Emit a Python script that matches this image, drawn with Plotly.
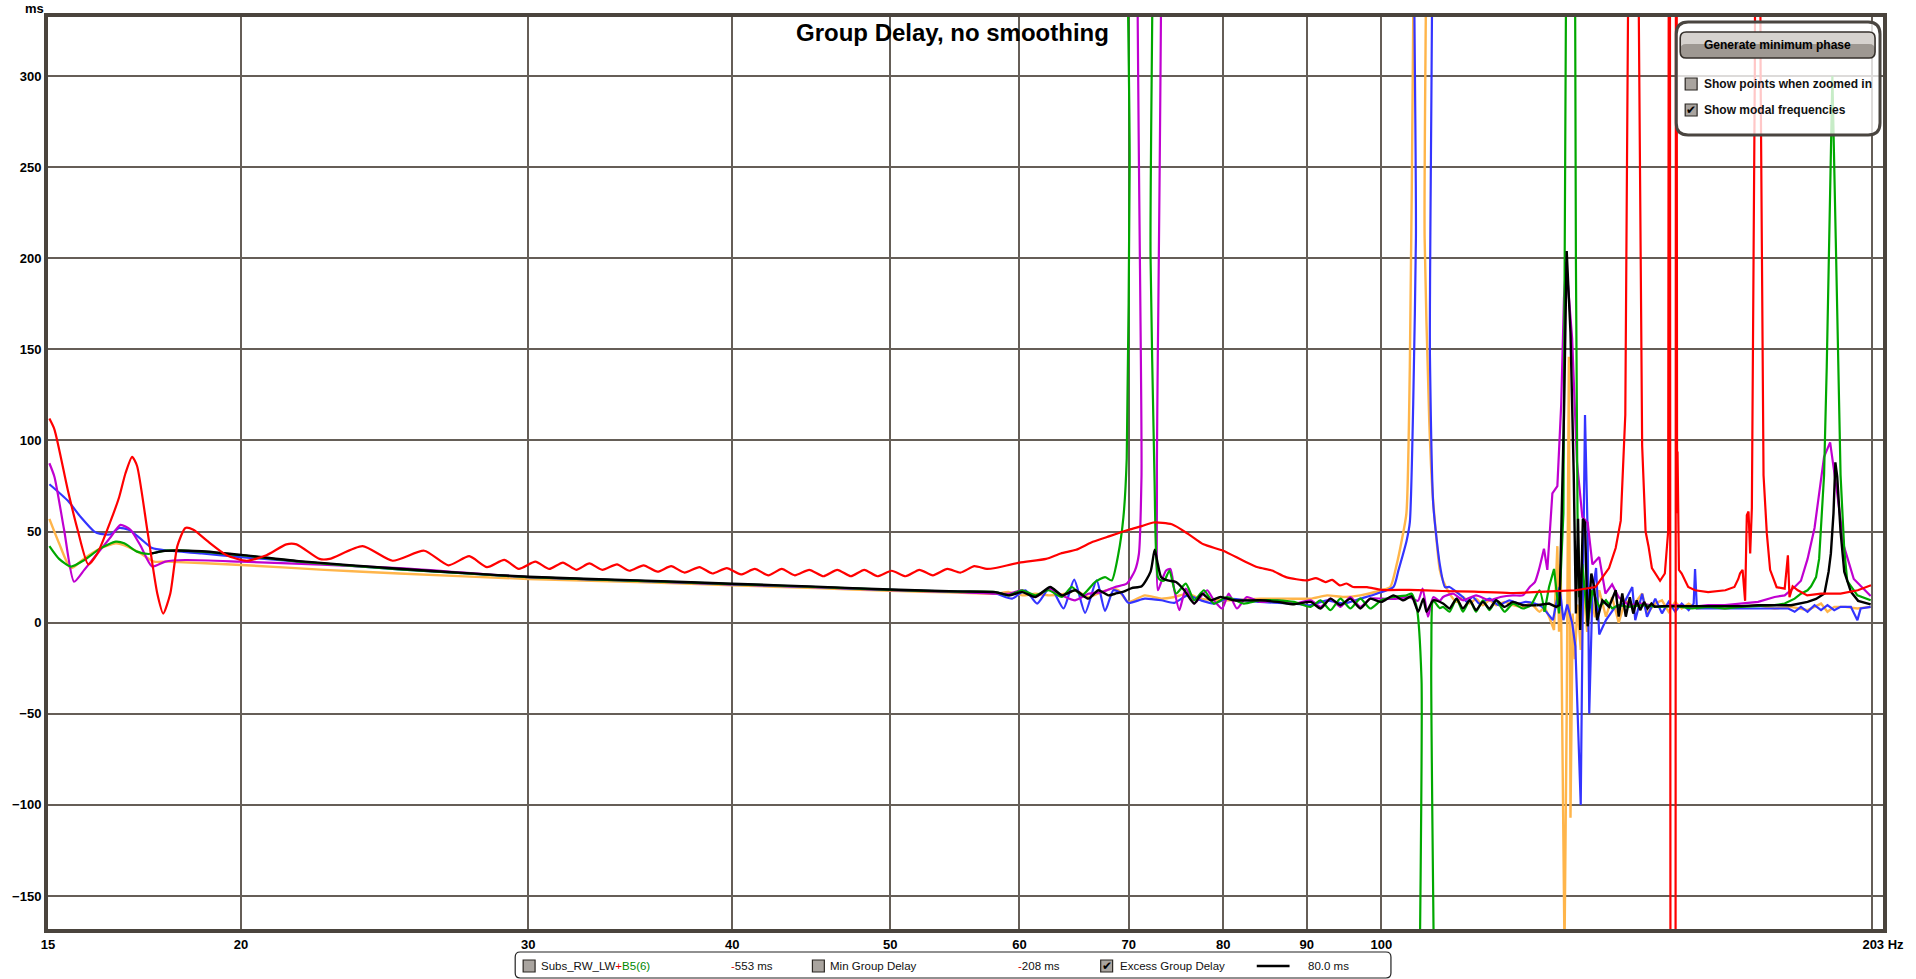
import math
import plotly.graph_objects as go

# frequency (Hz) / group delay (ms)
orange_pts = [(15.26, 57), (15.47, 43.6), (15.73, 29.9), (16.03, 35.3), (16.40, 40.8), (16.76, 43.6), (17.04, 41.8),
              (17.36, 38), (17.69, 33.5), (18.02, 33.5), (20.0, 31.7), (22.5, 29), (25.0, 27), (30.0, 24), (35.0, 22.3),
              (40.0, 20.5), (45.0, 19), (50.0, 17.5), (55.0, 16.5),
              (58.01, 15.9), (59.11, 16.8), (60.23, 15), (61.36, 15.9), (62.52, 15), (64.0, 15.9), (64.91, 17.8),
              (66.13, 14.1), (67.39, 16.8), (68.35, 18.7), (68.99, 17.8), (69.97, 11.4), (71.61, 15), (73.29, 13.2),
              (74.67, 14.1), (76.07, 15.9), (77.49, 13.2), (80.43, 12.3), (84.26, 13.2), (87.5, 13.2), (90.5, 13.2),
              (92.62, 15), (94.82, 14.1), (97.08, 15), (99.98, 17.8), (101.26, 19.6), (102.19, 32), (102.91, 45),
              (103.6, 60), (104.1, 140), (104.6, 330), (104.9, 600), (105.8, 600), (106.3, 211), (107.0, 110),
              (107.5, 71), (108.6, 29), (109.1, 23),
              (110.1, 16), (111.2, 11.4), (112.2, 14.1), (113.3, 10.5), (114.3, 13.2), (115.4, 9.6), (116.5, 12.3),
              (117.6, 9.6), (119.0, 11.4), (120.4, 9.6), (122.1, 8.7), (123.5, 10.5), (125.0, 6.0), (125.9, 8.7),
              (126.7, 3.3), (127.6, -4), (128.2, 42), (128.5, -5), (128.8, 32), (129.1, -60), (129.5, -180),
              (129.9, -50), (130.3, 146), (130.6, -107), (131.0, 5), (131.4, -20), (131.9, 10), (132.5, -15),
              (133.0, 20), (133.7, -5), (134.5, 14), (135.2, 3), (136.0, 17.8), (137.3, 3.3), (138.5, 14),
              (139.8, 0), (141.1, 12.3), (142.5, 8.7), (144.5, 16), (145.5, 5.1), (147.2, 10.5), (148.6, 12.3),
              (150.0, 6.0), (151.4, 11.4), (152.8, 7.8), (154.3, 10.5), (156.1, 7.8), (158.6, 8.7), (162.4, 7.8),
              (166.2, 8.7), (170.2, 9.6), (174.2, 7.8), (178.3, 8.7), (182.5, 6.9), (186.0, 10.5), (187.7, 6.0),
              (189.5, 8.7), (192.5, 8.7), (195.8, 7.8), (199.5, 8.7)]

blue_pts = [(15.26, 76), (15.66, 67), (15.95, 58), (16.26, 50), (16.40, 48.7), (16.64, 48.5), (16.84, 52), (17.07, 51),
            (17.36, 46), (17.64, 41), (18.02, 39.6), (18.92, 38), (20.0, 36), (21.7, 33.5), (25.0, 29.3), (27.5, 27),
            (30.0, 25), (35.0, 23), (40.0, 21), (45.0, 19.5), (50.0, 18), (55.0, 17),
            (58.01, 16), (59.39, 13.2), (60.51, 17.8), (61.51, 10.5), (62.67, 19.6), (63.85, 7.8), (64.82, 23.6),
            (65.83, 5.4), (66.91, 23.2), (67.71, 6.5), (68.51, 17.8), (69.32, 15.9), (69.97, 10.9), (71.61, 13.2),
            (73.29, 12.3), (74.67, 10.9), (76.07, 15), (77.49, 12.3), (78.95, 10.5), (80.43, 13.2), (84.26, 11.4),
            (88.41, 10.5), (90.5, 9.6), (92.62, 12.3), (94.82, 10.5), (97.08, 13.2), (99.36, 15.9), (101.72, 19.6),
            (102.43, 28.6), (103.63, 45), (104.1, 55), (104.6, 120), (105.0, 211), (105.5, 600), (106.5, 600),
            (107.1, 146), (107.6, 65), (108.6, 32), (109.4, 19.5),
            (110.1, 19.6), (111.2, 16.8), (112.2, 14.1), (112.8, 11.4), (113.8, 14.1), (114.8, 10.5), (116.5, 13.2),
            (118.0, 9.6), (119.8, 12.3), (121.3, 10.5), (122.6, 11.4), (124.2, 10.5), (125.5, 8.7), (126.5, 5.1),
            (127.4, 1.4), (128.6, 19.6), (129.3, 1.4), (130.0, 10), (130.9, 0), (131.5, -13), (132.5, -100),
            (132.9, 16), (133.3, 114), (133.8, 49), (134.1, -50), (134.7, 16), (135.4, 30), (136.0, -6.5),
            (137.3, 1.4), (139.1, 8.7), (140.8, 10.5), (142.5, 19.6), (143.1, 1.4), (144.5, 15.9), (145.5, 3.3),
            (147.2, 13.2), (148.6, 5.1), (150.0, 11.4), (151.4, 6.0), (152.8, 10.5), (154.3, 6.9), (155.4, 10.5),
            (155.7, 29.5), (156.1, 7.8), (158.6, 7.8), (162.4, 7.8), (166.2, 7.8), (170.2, 7.8), (174.2, 7.8),
            (177.6, 7.8), (179.2, 6.0), (180.8, 8.7), (182.5, 6.0), (184.3, 9.6), (186.0, 6.9), (187.7, 9.6),
            (189.5, 6.9), (191.2, 8.7), (194.0, 8.7), (195.8, 1.4), (196.7, 7.8), (199.5, 8.7)]

magenta_pts = [(15.26, 87.5), (15.37, 80), (15.58, 51), (15.80, 22.5), (16.03, 29), (16.33, 38), (16.64, 47),
               (16.87, 53.7), (17.11, 51), (17.36, 42), (17.64, 30.8), (17.97, 33.5), (18.49, 34.4), (20.0, 33.5),
               (25.0, 30), (30.0, 25), (35.0, 23), (40.0, 21), (45.0, 19.5), (50.0, 17.8), (55.0, 16.8),
               (58.01, 15.9), (59.11, 15.9), (60.23, 17.8), (61.36, 14.1), (62.52, 18.7), (63.71, 15.0),
               (64.91, 12.3), (66.13, 15.9), (67.39, 16.8), (68.67, 19.6), (69.81, 21.4), (70.62, 28.6),
               (71.02, 37.7), (71.28, 80), (71.6, 600), (72.5, 600), (72.85, 80), (72.95, 17.8), (73.29, 22.3),
               (73.8, 28.6), (74.25, 29.5), (74.67, 17.8), (75.19, 6.9), (75.89, 18.7), (76.78, 10.5), (77.31, 13.2),
               (78.21, 17.8), (78.95, 12.3), (79.87, 7.8), (80.62, 15.9), (81.56, 7.8), (82.71, 14.1), (84.26, 11.4),
               (86.36, 12.3), (88.41, 10.5), (90.5, 12.3), (91.78, 8.7), (93.07, 13.2), (94.39, 8.7), (95.72, 14.1),
               (97.08, 8.7), (98.45, 13.2), (100.0, 13.2), (102.0, 13), (104.0, 14), (105.3, 12), (106.0, 18.7),
               (106.8, 3.3), (107.6, 14), (108.6, 12),
               (109.1, 14.1), (110.7, 15.9), (112.2, 12.3), (114.3, 15), (116.5, 12.3), (118.3, 14.1), (120.4, 15),
               (122.1, 15), (123.3, 19.6), (124.2, 22.3), (124.9, 29), (125.8, 40.6), (126.4, 29), (127.3, 71),
               (128.2, 75), (128.9, 120), (129.4, 178), (129.8, 198), (130.3, 180), (130.9, 156), (131.8, 88),
               (132.8, 58), (133.8, 55), (134.7, 32), (136.0, 36), (137.2, 16), (138.5, 21), (139.8, 14),
               (141.8, 9.6), (144.5, 10.5), (147.9, 8.7), (151.4, 9.6), (155.0, 8.7), (158.6, 9.6), (162.4, 9.6),
               (166.2, 10.5), (170.2, 11.4), (174.2, 14.1), (176.7, 15), (179.2, 19.6), (180.8, 23), (182.5, 35),
               (184.3, 52), (186.8, 91), (188.4, 99), (190.3, 71), (192.1, 42), (194.8, 24), (199.5, 14.6)]

green_pts = [(15.26, 42), (15.47, 35), (15.73, 30.8), (16.03, 34.4), (16.40, 40.8), (16.76, 44.5), (16.96, 43.6),
             (17.27, 39), (17.56, 37.7), (17.97, 39.6), (18.92, 39), (20.0, 37), (21.7, 33.5), (25.0, 29.3),
             (27.5, 27), (30.0, 25), (35.0, 23), (40.0, 21.2), (45.0, 19.6), (50.0, 18), (55.0, 17),
             (58.01, 16.8), (59.11, 15.0), (60.23, 17.8), (61.36, 15.0), (62.52, 17.8), (63.71, 14.1), (64.6, 19.6),
             (65.52, 15.0), (66.75, 22.3), (67.71, 25.0), (68.35, 23.2), (68.99, 37.7), (69.48, 57.6), (69.81, 90),
             (70.1, 250), (70.4, 600), (71.6, 600), (72.2, 200), (72.6, 80), (72.95, 25), (73.29, 23.2),
             (73.63, 23.2), (74.15, 28.6), (74.84, 16), (75.89, 21.4), (76.78, 12.3), (77.85, 17.8), (78.95, 10.5),
             (80.43, 14.1), (82.33, 10.5), (84.26, 12.3), (86.36, 12.3), (88.41, 11.4), (90.5, 8.7), (91.78, 12.3),
             (93.07, 6.9), (94.39, 13.2), (95.72, 7.8), (97.08, 13.2), (98.45, 7.8), (100.0, 12.3), (101.72, 14.1),
             (103.63, 15.0), (104.36, 15.9), (105.1, 8.7), (105.83, -31), (106.0, -600), (107.1, -600),
             (107.3, -20), (107.6, 12), (108.6, 8),
             (109.1, 8.7), (110.1, 6.0), (111.2, 13.2), (112.2, 6.0), (113.3, 12.3), (114.3, 6.0), (115.4, 12.3),
             (116.5, 6.9), (117.6, 12.3), (119.0, 6.0), (120.4, 10.5), (122.1, 7.8), (123.5, 9.6), (125.0, 17.8),
             (125.9, 6.0), (126.7, 19.6), (127.6, 29.5), (128.5, 5.1), (129.3, 60), (129.7, 300), (130.2, 600),
             (131.2, 600), (131.6, 200), (131.9, 60), (132.2, 14), (132.8, 32.2), (133.8, 0), (134.7, 17.8),
             (136.0, 8.7), (137.3, 12.3), (138.5, 7.8), (139.8, 9.6), (141.8, 8.7), (144.5, 9.6), (147.9, 8.7),
             (151.4, 9.1), (155.0, 7.8), (158.6, 8.7), (162.4, 7.8), (166.2, 8.7), (170.2, 9.1), (174.2, 9.6),
             (176.7, 10.5), (179.2, 13.2), (180.8, 15.9), (182.5, 17.8), (183.4, 20), (184.7, 25), (185.5, 35),
             (186.3, 60), (186.8, 81), (187.5, 140), (188.1, 211), (189.0, 300), (189.9, 211), (190.6, 130),
             (191.2, 81), (192.2, 40), (193.0, 23), (195.8, 15), (199.5, 12.3)]

black_pts = [(17.6, 37.9), (17.97, 39.4), (18.92, 39.2), (20.0, 37.2), (21.7, 33.8), (25.0, 29.6), (27.5, 27.2),
             (30.0, 25.2), (35.0, 23.2), (40.0, 21.4), (45.0, 19.8), (50.0, 18.2), (55.0, 17.2),
             (58.01, 16.8), (59.11, 15.0), (60.23, 16.8), (61.36, 14.1), (62.67, 19.6), (63.71, 15.0), (64.91, 17.8),
             (66.13, 13.2), (67.07, 17.8), (68.03, 15.0), (68.67, 15.9), (69.5, 17), (70.3, 19), (71.3, 20),
             (72.2, 28), (72.62, 40), (72.95, 32), (73.29, 25), (73.97, 23.2), (74.84, 22.3), (75.72, 17.8),
             (76.78, 10.5), (77.67, 15.9), (78.58, 12.3), (79.69, 14.1), (81.19, 12.3), (84.26, 12.3), (86.36, 11.4),
             (88.41, 10.1), (90.5, 11.4), (91.78, 7.8), (93.07, 13.2), (94.39, 9.6), (95.72, 13.2), (97.08, 7.8),
             (98.45, 13.2), (100.0, 11.4), (101.72, 15.0), (103.16, 12.3), (104.36, 14.5), (105.35, 6.0),
             (106.1, 13.2), (106.59, 6.0), (107.6, 12.3),
             (109.1, 10.5), (110.1, 7.8), (111.2, 13.2), (112.2, 7.8), (113.3, 12.3), (114.3, 6.9), (115.4, 11.4),
             (116.5, 7.8), (117.6, 12.3), (119.0, 8.7), (120.4, 11.4), (122.1, 9.6), (124.5, 9.6), (126.7, 10.5),
             (128.0, 8.7), (128.6, 9.7), (129.4, 114), (129.9, 204), (130.6, 159), (131.2, 81), (131.6, 5),
             (132.0, 57), (132.4, -4), (132.9, 57), (133.3, 55), (133.8, -2), (134.5, 27), (135.0, 20),
             (135.6, 1.4), (136.6, 12.3), (137.9, 8.7), (139.2, 17.8), (139.8, 3.3), (140.5, 16), (141.2, 3.3),
             (142.0, 14), (142.7, 5), (143.4, 12.3), (144.1, 6.9), (144.9, 11.4), (145.6, 7.8), (146.4, 10.5),
             (147.1, 8.7), (148.6, 9.1), (151.4, 9.1), (155.0, 9.1), (158.6, 9.1), (162.4, 9.1), (166.2, 9.1),
             (170.2, 9.6), (174.2, 9.6), (178.3, 9.6), (182.5, 11.4), (184.7, 13), (186.9, 16), (188.0, 28),
             (188.6, 38), (189.3, 60), (189.8, 88), (190.3, 80), (191.2, 50), (192.2, 28), (194.0, 17),
             (196.0, 12), (199.5, 10)]

red_pts = [(15.26, 112), (15.37, 106), (15.66, 73), (15.88, 51), (16.12, 32), (16.33, 38), (16.64, 56), (16.84, 69),
           (16.99, 82), (17.15, 91), (17.27, 86), (17.52, 51), (17.77, 16), (17.92, 5), (18.10, 16), (18.28, 42),
           (18.49, 52), (18.70, 51), (19.06, 45), (19.60, 37), (20.16, 34), (20.73, 37), (21.32, 43), (21.63, 43),
           (22.34, 35), (22.66, 35), (23.74, 42), (24.77, 34),
           (25.9, 39.5), (26.8, 31.5), (27.6, 36.5), (28.3, 30.5), (29.0, 34.5), (29.6, 29.5), (30.3, 33.5),
           (30.9, 29.5), (31.5, 33), (32.1, 29), (32.7, 32.5), (33.3, 29), (34.0, 32), (34.6, 28.5), (35.3, 31.5),
           (36.0, 28), (36.7, 31), (37.4, 27.5), (38.2, 30.5), (38.9, 27), (39.7, 30), (40.5, 26.5), (41.3, 29.5),
           (42.1, 26), (42.9, 29.5), (43.7, 26), (44.6, 29), (45.5, 25.5), (46.4, 29), (47.3, 25.5), (48.2, 29),
           (49.1, 25.5), (50.1, 28.5), (51.1, 25.5), (52.1, 29), (53.1, 26), (54.2, 29.5), (55.2, 27.5),
           (56.3, 31), (57.3, 29.5),
           (58.0, 30), (60.0, 33), (62.3, 35), (63.6, 38), (65.0, 40), (66.4, 44), (67.9, 47), (70.0, 51),
           (71.3, 53), (72.5, 55), (74.4, 54), (76.2, 48.5), (77.8, 43), (80.0, 39.5), (82.3, 34), (84.0, 30.4),
           (85.7, 28.6), (87.4, 25), (90.0, 23.2), (91.2, 24.5), (92.4, 22.3), (93.3, 23.5), (94.3, 20.5),
           (95.2, 21.5), (96.1, 19.6), (98.0, 19.5), (100.0, 18), (104.0, 18), (109.0, 17.4), (114.0, 17),
           (120.0, 16.3), (126.0, 17), (131.5, 17.8), (135.3, 19.6), (137.9, 30), (139.2, 41), (140.2, 56),
           (141.1, 114), (141.8, 340), (142.8, 800), (143.8, 340), (144.5, 97), (145.2, 50), (145.8, 42),
           (146.5, 30), (148.2, 23), (149.2, 27), (149.9, 50), (150.2, 800), (150.5, -800), (151.4, -800),
           (151.6, 800), (151.8, 60), (151.9, 94), (152.2, 29), (152.8, 27), (154.2, 19.6), (155.7, 17.8),
           (158.6, 16.8), (162.5, 17.8), (164.6, 19.6), (165.5, 24), (165.9, 27), (166.5, 29), (167.1, 12),
           (167.5, 59), (167.9, 61), (168.3, 38), (168.7, 63), (169.4, 300), (170.1, 800), (170.8, 300),
           (171.5, 81), (172.3, 49), (173.1, 29), (174.7, 19.5), (176.7, 18.7), (177.5, 37), (177.9, 14),
           (178.7, 20), (180.0, 17.8), (182.4, 15), (186.0, 16), (191.2, 16), (195.9, 17.8), (199.6, 20.5)]

x_ticks = [15.23, 20, 30, 40, 50, 60, 70, 80, 90, 100, 200, 203]
x_labels = ["15", "20", "30", "40", "50", "60", "70", "80", "90", "100", "", "203 Hz"]
y_ticks = [-150, -100, -50, 0, 50, 100, 150, 200, 250, 300]

# plot area in pixels
L, R, T, B = 47, 1893, 17, 929
SPLINE_MAX = 126  # curves are smoothed below this frequency, sharp above


def xp(px):
    return (px - L) / (R - L)


def yp(py):
    return (B - py) / (B - T)


def rrect(x0, y0, x1, y1, r):
    # rounded rectangle path in paper units from pixel corners
    pts = [("M", x0 + r, y0), ("L", x1 - r, y0), ("Q", x1, y0, x1, y0 + r), ("L", x1, y1 - r),
           ("Q", x1, y1, x1 - r, y1), ("L", x0 + r, y1), ("Q", x0, y1, x0, y1 - r), ("L", x0, y0 + r),
           ("Q", x0, y0, x0 + r, y0)]
    s = ""
    for p in pts:
        s += p[0]
        vals = p[1:]
        for i in range(0, len(vals), 2):
            s += "%.5f,%.5f " % (xp(vals[i]), yp(vals[i + 1]))
    return s + "Z"


FONT = "Liberation Sans, Arial, sans-serif"

fig = go.Figure()
series = [(orange_pts, "#ffb54a", 2.4), (blue_pts, "#3434ff", 2.2), (magenta_pts, "#c000d0", 2.2),
          (green_pts, "#00a800", 2.2), (black_pts, "#000000", 2.4), (red_pts, "#ff0000", 2.2)]
for pts, col, w in series:
    low = [p for p in pts if p[0] <= SPLINE_MAX]
    high = [low[-1]] + [p for p in pts if p[0] > SPLINE_MAX]
    for part, shape in ((low, "spline"), (high, "linear")):
        f, g = zip(*part)
        fig.add_trace(go.Scatter(x=f, y=g, mode="lines",
                                 line=dict(color=col, width=w, shape=shape, smoothing=0.6),
                                 showlegend=False, hoverinfo="skip"))

shapes = []
# modal panel at the top right
shapes.append(dict(type="path", xref="paper", yref="paper", layer="above", path=rrect(1685, 22, 1890, 135, 12),
                   fillcolor="rgba(255,255,255,0.78)", line=dict(color="#4a4540", width=3)))
shapes.append(dict(type="path", xref="paper", yref="paper", layer="above", path=rrect(1689, 32, 1885, 58, 6),
                   fillcolor="#d6d2ce", line=dict(width=0)))
shapes.append(dict(type="path", xref="paper", yref="paper", layer="above", path=rrect(1689, 44, 1885, 58, 6),
                   fillcolor="#9e9892", line=dict(width=0)))
shapes.append(dict(type="path", xref="paper", yref="paper", layer="above", path=rrect(1689, 32, 1885, 58, 6),
                   fillcolor="rgba(0,0,0,0)", line=dict(color="#36312c", width=1.6)))
for cy in (84, 110):
    shapes.append(dict(type="rect", xref="paper", yref="paper", layer="above",
                       x0=xp(1694), x1=xp(1706), y0=yp(cy - 6), y1=yp(cy + 6),
                       fillcolor="#a9a49f", line=dict(color="#2b2723", width=1.2)))
# bottom legend bar
shapes.append(dict(type="path", xref="paper", yref="paper", layer="above", path=rrect(517, 952, 1398, 978, 5),
                   fillcolor="white", line=dict(color="#222222", width=1.2)))
for cx in (531, 822, 1112):
    shapes.append(dict(type="rect", xref="paper", yref="paper", layer="above",
                       x0=xp(cx - 6), x1=xp(cx + 6), y0=yp(960), y1=yp(972),
                       fillcolor="#a9a49f", line=dict(color="#2b2723", width=1.2)))
shapes.append(dict(type="line", xref="paper", yref="paper", layer="above",
                   x0=xp(1263), x1=xp(1296), y0=yp(966), y1=yp(966), line=dict(color="black", width=2.5)))


def ann(text, px, py, size=12, bold=False, anchor="left", color="#111111"):
    return dict(text=text, x=xp(px), y=yp(py), xref="paper", yref="paper", showarrow=False,
                xanchor=anchor, yanchor="middle",
                font=dict(family=FONT, size=size, color=color, weight="bold" if bold else "normal"))


annotations = [
    ann("Group Delay, no smoothing", 957, 32, size=24, bold=True, anchor="center", color="black"),
    ann("ms", 33, 9, size=13, bold=True, anchor="center", color="black"),
    ann("Generate minimum phase", 1787, 45, size=12, bold=True, anchor="center", color="black"),
    ann("Show points when zoomed in", 1711, 84, size=12, bold=True),
    ann("Show modal frequencies", 1711, 110, size=12, bold=True),
    ann("\u2714", 1700, 110, size=12, anchor="center", color="black"),
    ann("Subs_RW_LW<span style='color:#e00000'>+</span><span style='color:#008800'>B5(6)</span>", 541, 966, size=11.5),
    ann("<span style='color:#e00000'>-</span>553 ms", 778, 966, size=11.5, anchor="right"),
    ann("Min Group Delay", 832, 966, size=11.5),
    ann("<span style='color:#e00000'>-</span>208 ms", 1067, 966, size=11.5, anchor="right"),
    ann("\u2714", 1112, 966, size=12, anchor="center", color="black"),
    ann("Excess Group Delay", 1123, 966, size=11.5),
    ann("80.0 ms", 1358, 966, size=11.5, anchor="right"),
]

fig.update_layout(
    width=1916, height=979, autosize=False,
    margin=dict(l=L, r=1916 - R, t=T, b=979 - B),
    paper_bgcolor="white", plot_bgcolor="white",
    shapes=shapes, annotations=annotations,
    xaxis=dict(type="log", range=[math.log10(15.23), math.log10(203)], tickvals=x_ticks, ticktext=x_labels,
               showgrid=True, gridcolor="#655e57", gridwidth=1.5, zeroline=False, ticks="",
               showline=True, mirror=True, linecolor="#4a443d", linewidth=4,
               tickfont=dict(family=FONT, size=13, color="black", weight="bold")),
    yaxis=dict(range=[-168.1, 332.4], tickvals=y_ticks, showgrid=True, gridcolor="#655e57", gridwidth=1.5,
               zeroline=False, ticks="", showline=True, mirror=True, linecolor="#4a443d", linewidth=4,
               tickfont=dict(family=FONT, size=13, color="black", weight="bold")),
)

fig.write_html("out.html", config={"displayModeBar": False, "responsive": False},
               post_script="document.body.style.margin='0px';document.body.style.overflow='hidden';")
